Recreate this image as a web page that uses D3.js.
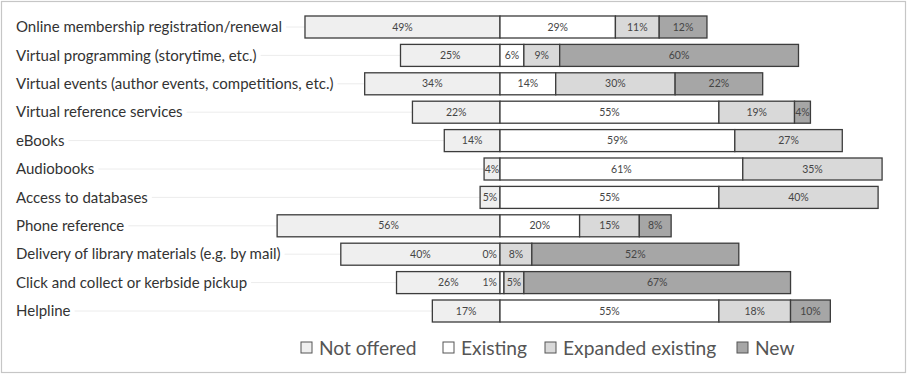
<!DOCTYPE html>
<html>
<head>
<meta charset="utf-8">
<script src="https://cdn.jsdelivr.net/npm/d3@7"></script>
<style>
  body { margin: 0; background: #fff; }
  svg text { font-family: Lato, "Liberation Sans", sans-serif; }
</style>
</head>
<body>
<script>
// services, top to bottom
let categories = [
  'Online membership registration/renewal',
  'Virtual programming (storytime, etc.)',
  'Virtual events (author events, competitions, etc.)',
  'Virtual reference services',
  'eBooks',
  'Audiobooks',
  'Access to databases',
  'Phone reference',
  'Delivery of library materials (e.g. by mail)',
  'Click and collect or kerbside pickup',
  'Helpline'
]
let notOffered = [49, 25, 34, 22, 14, 4, 5, 56, 40, 26, 17]
let existing = [29, 6, 14, 55, 59, 61, 55, 20, 0, 1, 55]
let expanded = [11, 9, 30, 19, 27, 35, 40, 15, 8, 5, 18]
let newer = [12, 60, 22, 4, 0, 0, 0, 8, 52, 67, 10]
let legendNames = ['Not offered', 'Existing', 'Expanded existing', 'New']

let W = 907, H = 374
let colors = { notOffered: '#efefef', existing: '#ffffff', expanded: '#d9d9d9', newer: '#a6a6a6' }

let rows = categories.map(function (c, i) {
  return { name: c, notOffered: notOffered[i], existing: existing[i], expanded: expanded[i], newer: newer[i] }
})

let x = d3.scaleLinear().domain([-100, 100]).range([102, 898])
let y = d3.scaleBand().domain(categories).range([12.8, 325.2]).paddingInner(0.225).paddingOuter(0.1125)

let svg = d3.select('body').append('svg').attr('width', W).attr('height', H)

// outer frame
svg.append('rect').attr('x', 1.5).attr('y', 1.5).attr('width', W - 3).attr('height', H - 3)
  .attr('fill', 'none').attr('stroke', '#c6c6c6').attr('stroke-width', 1.2)

// category labels
let labels = svg.append('g').selectAll('text').data(rows).enter().append('text')
  .attr('x', 16)
  .attr('y', function (d) { return y(d.name) + y.bandwidth() / 2 })
  .attr('dy', '0.35em')
  .attr('font-size', 15)
  .attr('fill', '#333')
  .text(function (d) { return d.name })

// faint leader lines from label to bar
labels.each(function (d) {
  let end = 16 + this.getComputedTextLength() + 4
  let start = x(-d.notOffered)
  if (start - end > 4) {
    svg.insert('line', 'g')
      .attr('x1', end).attr('x2', start)
      .attr('y1', y(d.name) + y.bandwidth() / 2).attr('y2', y(d.name) + y.bandwidth() / 2)
      .attr('stroke', '#ececec').attr('stroke-width', 1)
  }
})

// segments: not offered goes left from 0, the rest stack to the right
let stackRight = d3.stack().keys(['existing', 'expanded', 'newer'])(rows)
let segs = []
rows.forEach(function (d) {
  segs.push({ key: 'notOffered', name: d.name, x0: -d.notOffered, x1: 0, v: d.notOffered })
})
stackRight.forEach(function (s) {
  s.forEach(function (p) {
    let v = p[1] - p[0]
    if (s.key === 'newer' && v === 0) return
    segs.push({ key: s.key, name: p.data.name, x0: p[0], x1: p[1], v: v })
  })
})

let bars = svg.append('g')
bars.selectAll('rect').data(segs).enter().append('rect')
  .attr('x', function (d) { return x(d.x0) })
  .attr('y', function (d) { return y(d.name) })
  .attr('width', function (d) { return x(d.x1) - x(d.x0) })
  .attr('height', y.bandwidth())
  .attr('fill', function (d) { return colors[d.key] })
  .attr('stroke', '#3c3c3c')
  .attr('stroke-width', 1.3)

bars.selectAll('text').data(segs).enter().append('text')
  .attr('x', function (d) {
    if (d.key === 'existing' && d.v < 2) return x(0) - 3
    return (x(d.x0) + x(d.x1)) / 2
  })
  .attr('y', function (d) { return y(d.name) + y.bandwidth() / 2 })
  .attr('dy', '0.35em')
  .attr('text-anchor', function (d) { return d.key === 'existing' && d.v < 2 ? 'end' : 'middle' })
  .attr('font-size', 10.5)
  .attr('fill', '#454545')
  .text(function (d) { return d.v + '%' })

// legend
let legendX = [301, 443, 545, 737]
let legendKeys = ['notOffered', 'existing', 'expanded', 'newer']
let lg = svg.append('g').selectAll('g').data(legendNames).enter().append('g')
  .attr('transform', function (d, i) { return 'translate(' + legendX[i] + ',348)' })
lg.append('rect')
  .attr('x', 0).attr('y', -6).attr('width', 11).attr('height', 11)
  .attr('fill', function (d, i) { return colors[legendKeys[i]] })
  .attr('stroke', '#555').attr('stroke-width', 1)
lg.append('text')
  .attr('x', 18).attr('dy', '0.35em')
  .attr('font-size', 19.2)
  .attr('fill', '#555')
  .text(function (d) { return d })
</script>
</body>
</html>
